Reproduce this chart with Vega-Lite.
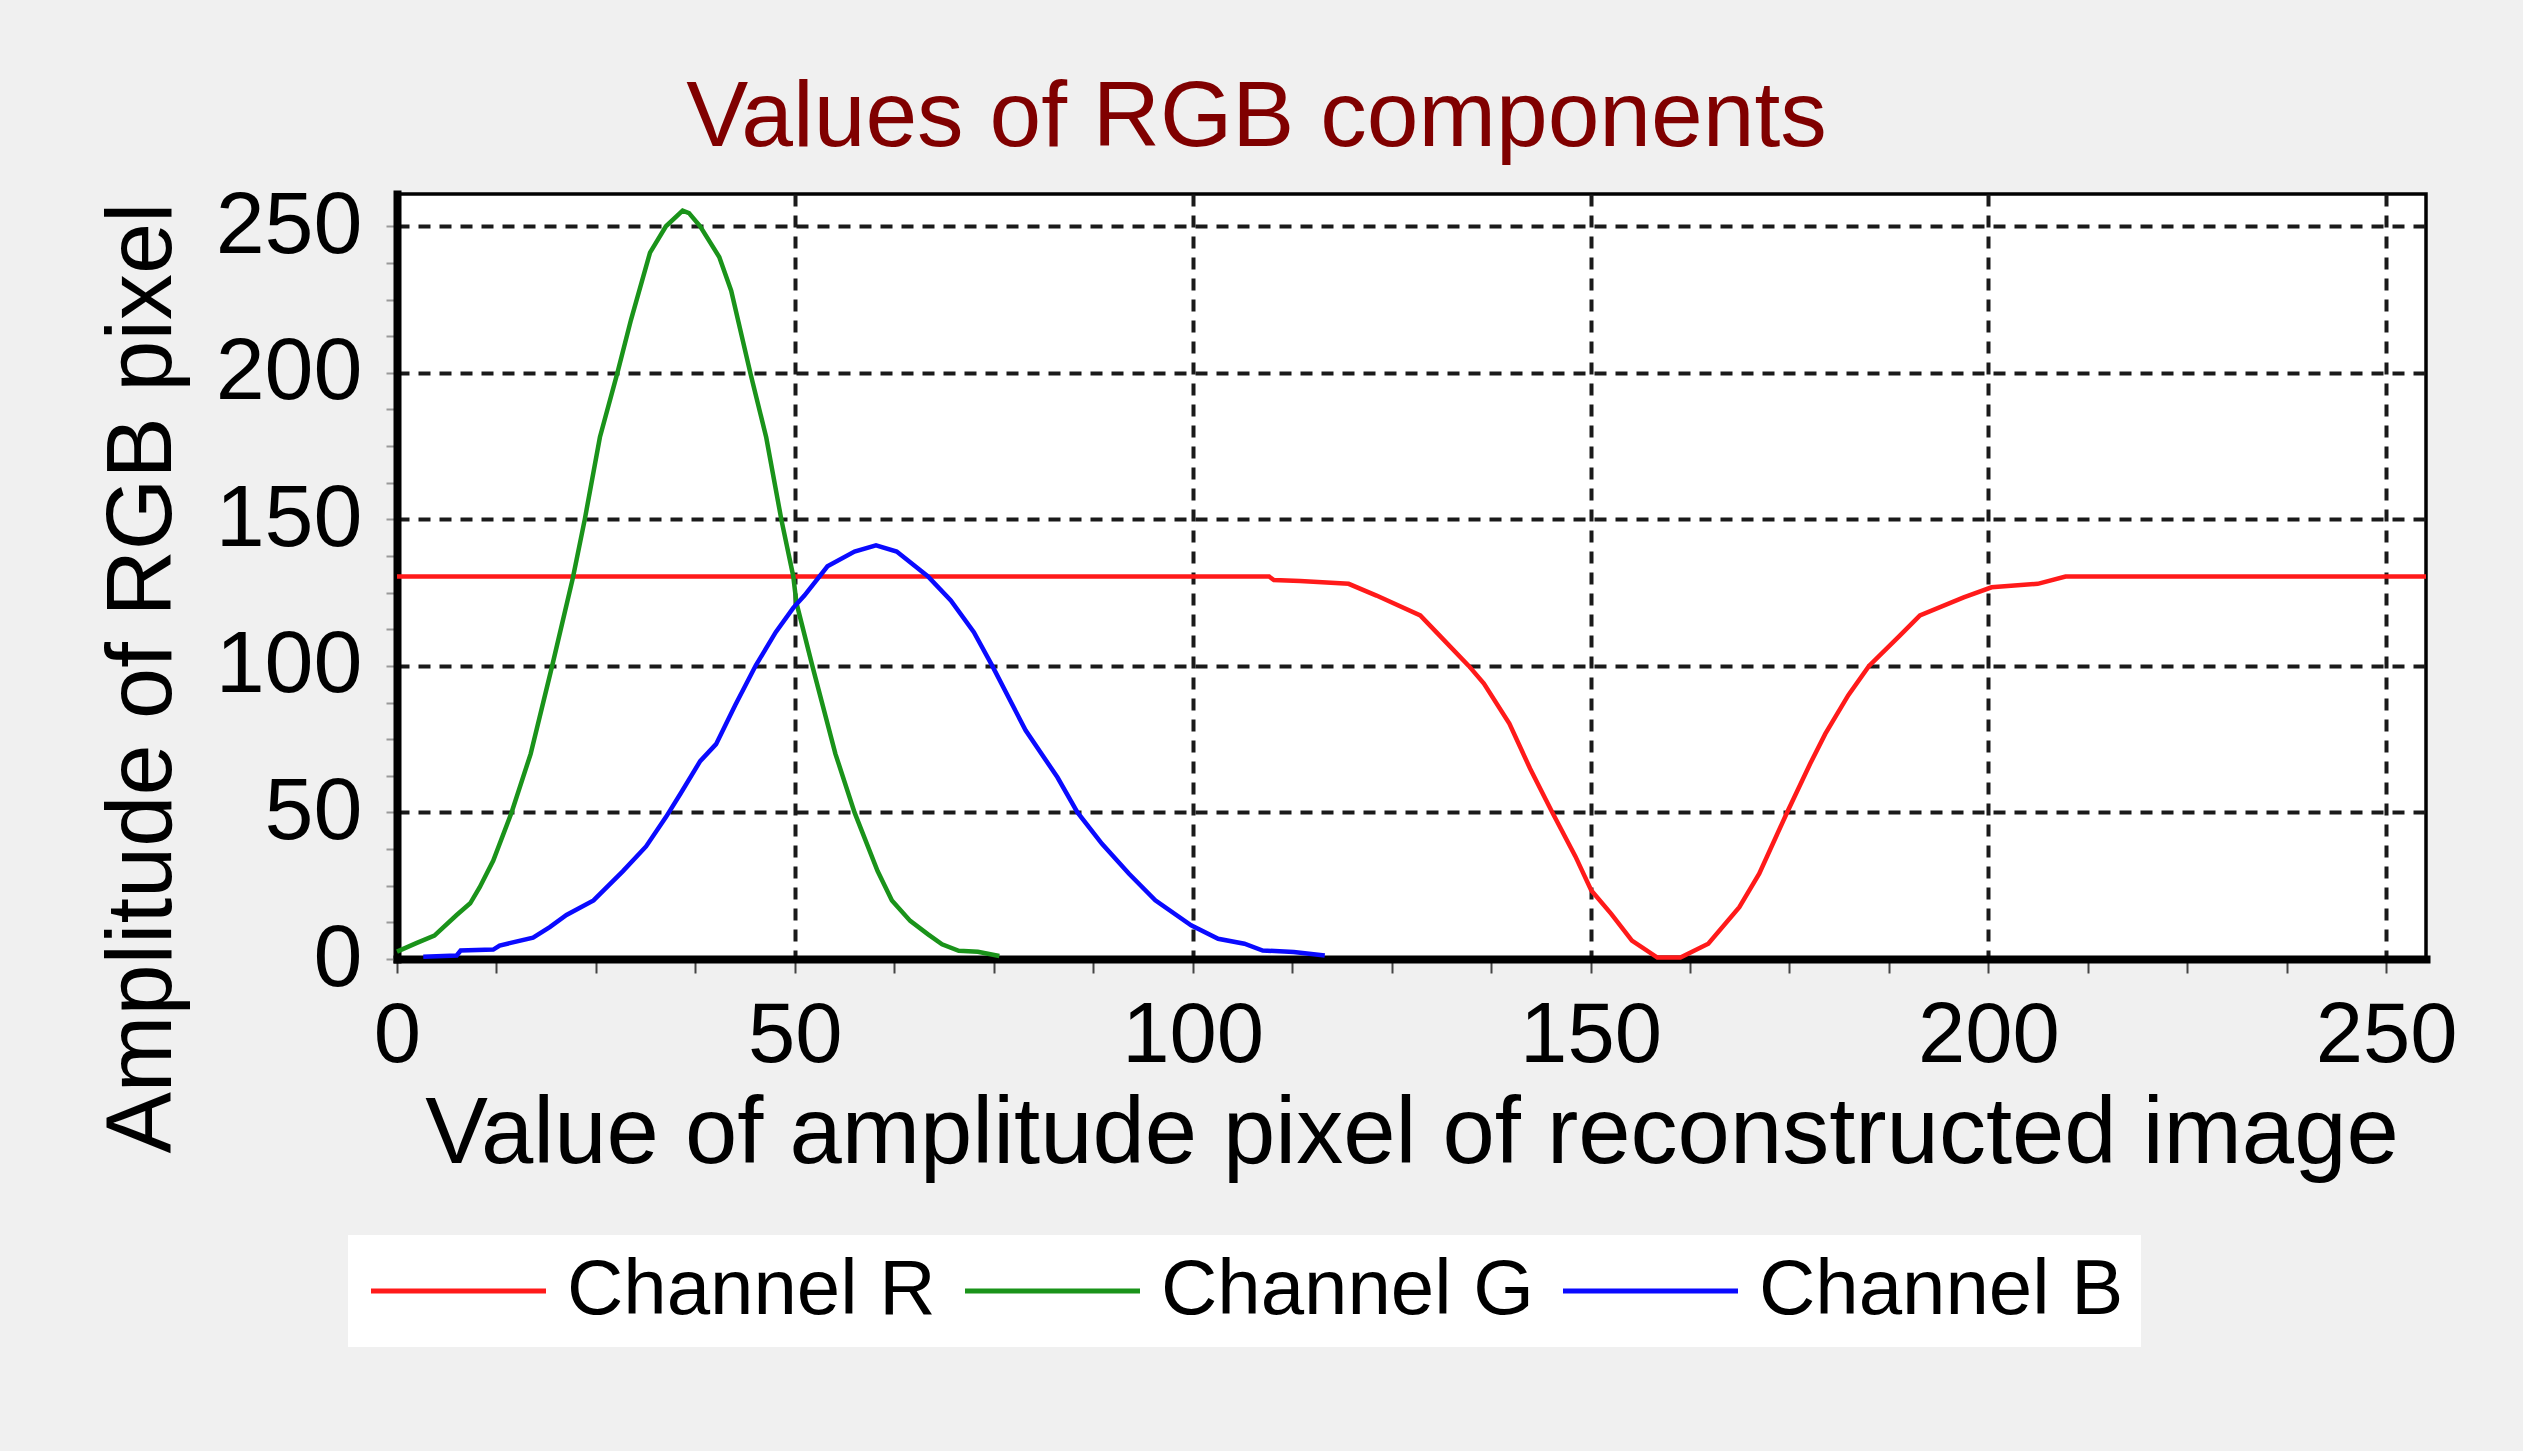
{
  "$schema": "https://vega.github.io/schema/vega-lite/v6.json",
  "width": 2029,
  "height": 765,
  "autosize": {"type": "none"},
  "padding": {"left": 397, "top": 194, "right": 97, "bottom": 492},
  "background": "#f0f0f0",
  "title": {
    "text": "Values of RGB components",
    "color": "#800000",
    "font": "Liberation Sans",
    "fontSize": 93,
    "fontWeight": "normal",
    "anchor": "middle",
    "dx": -155,
    "dy": 70,
    "baseline": "alphabetic",
    "offset": 13
  },
  "data": {
    "values": [
      {"x": 0, "y": 130.5, "channel": "Channel R"},
      {"x": 109.6, "y": 130.5, "channel": "Channel R"},
      {"x": 110.2, "y": 129.3, "channel": "Channel R"},
      {"x": 113.5, "y": 129, "channel": "Channel R"},
      {"x": 119.6, "y": 128, "channel": "Channel R"},
      {"x": 123.1, "y": 124, "channel": "Channel R"},
      {"x": 128.6, "y": 117.2, "channel": "Channel R"},
      {"x": 130.8, "y": 111, "channel": "Channel R"},
      {"x": 134.7, "y": 100, "channel": "Channel R"},
      {"x": 136.6, "y": 94, "channel": "Channel R"},
      {"x": 139.8, "y": 80.3, "channel": "Channel R"},
      {"x": 142.4, "y": 65, "channel": "Channel R"},
      {"x": 145.2, "y": 50, "channel": "Channel R"},
      {"x": 148.1, "y": 35, "channel": "Channel R"},
      {"x": 150.1, "y": 23.4, "channel": "Channel R"},
      {"x": 152.6, "y": 15.4, "channel": "Channel R"},
      {"x": 155.2, "y": 6.3, "channel": "Channel R"},
      {"x": 158.4, "y": 0.5, "channel": "Channel R"},
      {"x": 161.3, "y": 0.5, "channel": "Channel R"},
      {"x": 164.8, "y": 5.2, "channel": "Channel R"},
      {"x": 168.7, "y": 17.7, "channel": "Channel R"},
      {"x": 171.2, "y": 29.1, "channel": "Channel R"},
      {"x": 174.7, "y": 50, "channel": "Channel R"},
      {"x": 177.6, "y": 66.6, "channel": "Channel R"},
      {"x": 179.5, "y": 76.8, "channel": "Channel R"},
      {"x": 182.4, "y": 90, "channel": "Channel R"},
      {"x": 185, "y": 100, "channel": "Channel R"},
      {"x": 188.9, "y": 110.4, "channel": "Channel R"},
      {"x": 191.4, "y": 117.2, "channel": "Channel R"},
      {"x": 196.9, "y": 123.4, "channel": "Channel R"},
      {"x": 200.4, "y": 126.8, "channel": "Channel R"},
      {"x": 206.2, "y": 128, "channel": "Channel R"},
      {"x": 209.7, "y": 130.5, "channel": "Channel R"},
      {"x": 255, "y": 130.5, "channel": "Channel R"},
      {"x": 0, "y": 2.5, "channel": "Channel G"},
      {"x": 2.5, "y": 5.5, "channel": "Channel G"},
      {"x": 4.7, "y": 8, "channel": "Channel G"},
      {"x": 7.5, "y": 15, "channel": "Channel G"},
      {"x": 9.2, "y": 19, "channel": "Channel G"},
      {"x": 10.4, "y": 24.5, "channel": "Channel G"},
      {"x": 12.1, "y": 33.6, "channel": "Channel G"},
      {"x": 14.4, "y": 50, "channel": "Channel G"},
      {"x": 16.8, "y": 70, "channel": "Channel G"},
      {"x": 19.5, "y": 100, "channel": "Channel G"},
      {"x": 22.1, "y": 130, "channel": "Channel G"},
      {"x": 23.6, "y": 150, "channel": "Channel G"},
      {"x": 25.5, "y": 178, "channel": "Channel G"},
      {"x": 27.7, "y": 200, "channel": "Channel G"},
      {"x": 29.4, "y": 218, "channel": "Channel G"},
      {"x": 31.8, "y": 241, "channel": "Channel G"},
      {"x": 33.8, "y": 250, "channel": "Channel G"},
      {"x": 35.9, "y": 255.3, "channel": "Channel G"},
      {"x": 36.7, "y": 254.5, "channel": "Channel G"},
      {"x": 38.1, "y": 250, "channel": "Channel G"},
      {"x": 40.5, "y": 239.5, "channel": "Channel G"},
      {"x": 42, "y": 228, "channel": "Channel G"},
      {"x": 44.4, "y": 200, "channel": "Channel G"},
      {"x": 46.4, "y": 178, "channel": "Channel G"},
      {"x": 48.3, "y": 150, "channel": "Channel G"},
      {"x": 49.8, "y": 130.6, "channel": "Channel G"},
      {"x": 50.2, "y": 121.5, "channel": "Channel G"},
      {"x": 52.2, "y": 100, "channel": "Channel G"},
      {"x": 55.1, "y": 70, "channel": "Channel G"},
      {"x": 57.5, "y": 50, "channel": "Channel G"},
      {"x": 60.4, "y": 30, "channel": "Channel G"},
      {"x": 62.2, "y": 20, "channel": "Channel G"},
      {"x": 64.5, "y": 13, "channel": "Channel G"},
      {"x": 66.7, "y": 8.5, "channel": "Channel G"},
      {"x": 68.5, "y": 5, "channel": "Channel G"},
      {"x": 70.6, "y": 2.8, "channel": "Channel G"},
      {"x": 73, "y": 2.5, "channel": "Channel G"},
      {"x": 75.7, "y": 1, "channel": "Channel G"},
      {"x": 3.3, "y": 0.8, "channel": "Channel B"},
      {"x": 7.5, "y": 1.2, "channel": "Channel B"},
      {"x": 8, "y": 2.9, "channel": "Channel B"},
      {"x": 12.1, "y": 3.2, "channel": "Channel B"},
      {"x": 12.9, "y": 4.6, "channel": "Channel B"},
      {"x": 17.1, "y": 7.3, "channel": "Channel B"},
      {"x": 19.2, "y": 10.9, "channel": "Channel B"},
      {"x": 21.3, "y": 15, "channel": "Channel B"},
      {"x": 24.7, "y": 20, "channel": "Channel B"},
      {"x": 28.4, "y": 30, "channel": "Channel B"},
      {"x": 31.3, "y": 38.4, "channel": "Channel B"},
      {"x": 33.8, "y": 48.4, "channel": "Channel B"},
      {"x": 35.7, "y": 56.7, "channel": "Channel B"},
      {"x": 38.1, "y": 67.5, "channel": "Channel B"},
      {"x": 40.1, "y": 73.3, "channel": "Channel B"},
      {"x": 42.5, "y": 86.6, "channel": "Channel B"},
      {"x": 45.1, "y": 100.2, "channel": "Channel B"},
      {"x": 47.6, "y": 111.5, "channel": "Channel B"},
      {"x": 49.8, "y": 119.8, "channel": "Channel B"},
      {"x": 51.2, "y": 124, "channel": "Channel B"},
      {"x": 54.1, "y": 134, "channel": "Channel B"},
      {"x": 57.5, "y": 139, "channel": "Channel B"},
      {"x": 60.2, "y": 141.1, "channel": "Channel B"},
      {"x": 62.8, "y": 139, "channel": "Channel B"},
      {"x": 66.7, "y": 130.6, "channel": "Channel B"},
      {"x": 69.6, "y": 122.3, "channel": "Channel B"},
      {"x": 72.5, "y": 111.5, "channel": "Channel B"},
      {"x": 74.8, "y": 100.1, "channel": "Channel B"},
      {"x": 79, "y": 78, "channel": "Channel B"},
      {"x": 83, "y": 62, "channel": "Channel B"},
      {"x": 85.5, "y": 50.1, "channel": "Channel B"},
      {"x": 88.6, "y": 39.3, "channel": "Channel B"},
      {"x": 92, "y": 29.1, "channel": "Channel B"},
      {"x": 95.3, "y": 20, "channel": "Channel B"},
      {"x": 99.8, "y": 11.5, "channel": "Channel B"},
      {"x": 103.2, "y": 6.9, "channel": "Channel B"},
      {"x": 106.5, "y": 5.2, "channel": "Channel B"},
      {"x": 108.8, "y": 2.9, "channel": "Channel B"},
      {"x": 112.7, "y": 2.4, "channel": "Channel B"},
      {"x": 116.6, "y": 1.2, "channel": "Channel B"}
    ]
  },
  "mark": {"type": "line", "strokeWidth": 4.5},
  "encoding": {
    "x": {
      "field": "x",
      "type": "quantitative",
      "scale": {"domain": [0, 255], "nice": false, "zero": false},
      "axis": {
        "title": "Value of amplitude pixel of reconstructed image",
        "titleY": 203,
        "titleBaseline": "alphabetic",
        "titleFontSize": 94,
        "values": [0, 12.5, 25, 37.5, 50, 62.5, 75, 87.5, 100, 112.5, 125, 137.5, 150, 162.5, 175, 187.5, 200, 212.5, 225, 237.5, 250],
        "labelExpr": "datum.value % 50 === 0 ? datum.label : ''",
        "labelPadding": 21,
        "tickSize": 14,
        "gridOpacity": {"condition": {"test": "datum.value % 50 === 0 && datum.value > 0", "value": 1}, "value": 0}
      }
    },
    "y": {
      "field": "y",
      "type": "quantitative",
      "scale": {"domain": [0, 261], "nice": false},
      "axis": {
        "title": "Amplitude of RGB pixel",
        "titleX": -227,
        "titleY": 483.5,
        "titleAngle": -90,
        "titleAlign": "center",
        "titleBaseline": "alphabetic",
        "titleFontSize": 92,
        "values": [0, 12.5, 25, 37.5, 50, 62.5, 75, 87.5, 100, 112.5, 125, 137.5, 150, 162.5, 175, 187.5, 200, 212.5, 225, 237.5, 250],
        "labelExpr": "datum.value % 50 === 0 ? datum.label : ''",
        "labelPadding": 24,
        "labelFontSize": 88,
        "tickSize": 11,
        "tickColor": "#999999",
        "gridOpacity": {"condition": {"test": "datum.value % 50 === 0 && datum.value > 0", "value": 1}, "value": 0}
      }
    },
    "color": {
      "field": "channel",
      "type": "nominal",
      "sort": ["Channel R", "Channel G", "Channel B"],
      "scale": {"domain": ["Channel R", "Channel G", "Channel B"], "range": ["#ff1a1a", "#1a931a", "#0a0aff"]},
      "legend": {
        "title": null,
        "orient": "none",
        "legendX": -49,
        "legendY": 1041,
        "direction": "horizontal",
        "columns": 3,
        "fillColor": "white",
        "padding": 17,
        "symbolType": "M0,0H10",
        "symbolSize": 1225,
        "symbolStrokeWidth": 5,
        "symbolOffset": -33,
        "labelOffset": 157,
        "labelLimit": 0,
        "columnPadding": 19,
        "labelFont": "Liberation Sans",
        "labelFontSize": 78,
        "labelColor": "black"
      }
    }
  },
  "config": {
    "view": {"fill": "white", "stroke": "black", "strokeWidth": 3.5},
    "axis": {
      "domainColor": "black",
      "domainWidth": 8,
      "domainCap": "square",
      "tickColor": "#444444",
      "tickWidth": 2,
      "labelFont": "Liberation Sans",
      "labelFontSize": 85,
      "labelColor": "black",
      "labelFlush": false,
      "labelOverlap": false,
      "titleFont": "Liberation Sans",
      "titleFontWeight": "normal",
      "titleColor": "black",
      "grid": true,
      "gridColor": "#1a1a1a",
      "gridDash": [12, 9],
      "gridWidth": 4
    }
  }
}
